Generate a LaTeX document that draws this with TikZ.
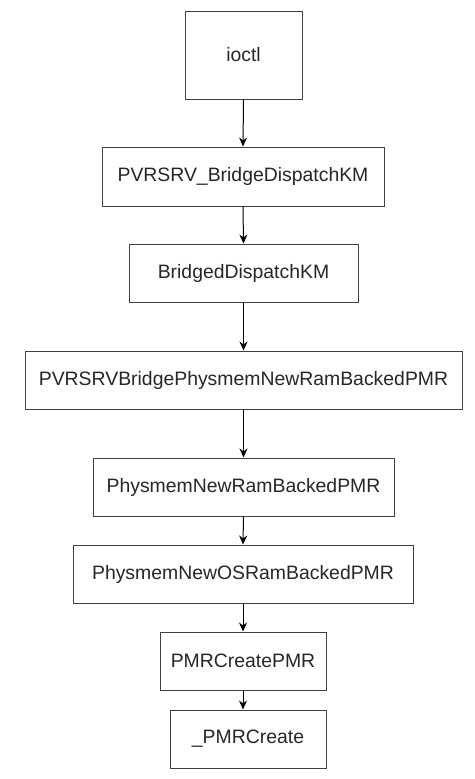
\documentclass[tikz,border=0pt]{standalone}
\usepackage{fontspec}
\setmainfont{Liberation Sans}
\usetikzlibrary{arrows.meta}
\begin{document}
\begin{tikzpicture}[x=1pt,y=-1pt,
  fbox/.style={draw=black!75, line width=1pt, rectangle, inner sep=0pt, text=black!85,
    font=\fontsize{19.4}{23}\selectfont},
  conn/.style={draw=black, line width=1pt, -{Stealth[length=9pt,width=8pt]}}]
\useasboundingbox (0,0) rectangle (474,779);
\node[fbox, minimum width=117pt, minimum height=88pt] (b1) at (243.5,55) {ioctl};
\node[fbox, minimum width=282pt, minimum height=59pt] (b2) at (243,176.5) {PVRSRV\_BridgeDispatchKM};
\node[fbox, minimum width=229pt, minimum height=58pt] (b3) at (243.5,273) {BridgedDispatchKM};
\node[fbox, minimum width=437pt, minimum height=58pt] (b4) at (243.5,380) {PVRSRVBridgePhysmemNewRamBackedPMR};
\node[fbox, minimum width=301pt, minimum height=58pt] (b5) at (243.5,487) {PhysmemNewRamBackedPMR};
\node[fbox, minimum width=340pt, minimum height=58pt] (b6) at (243,574) {PhysmemNewOSRamBackedPMR};
\node[fbox, minimum width=166pt, minimum height=58pt] (b7) at (243,661) {PMRCreatePMR};
\node[fbox, minimum width=156pt, minimum height=58pt] (b8) at (248,739) {\_PMRCreate};
\draw[conn] (b1.south) -- (b2.north);
\draw[conn] (b2.south) -- (b3.north);
\draw[conn] (b3.south) -- (b4.north);
\draw[conn] (b4.south) -- (b5.north);
\draw[conn] (b5.south) -- (b6.north);
\draw[conn] (b6.south) -- (b7.north);
\draw[conn] (b7.south) -- (b7.south |- b8.north);
\end{tikzpicture}
\end{document}
